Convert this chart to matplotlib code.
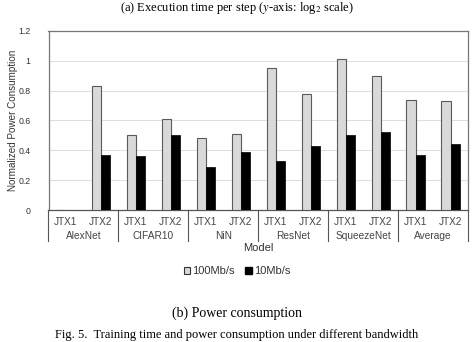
import matplotlib
matplotlib.use("Agg")
import matplotlib.pyplot as plt
from matplotlib.patches import Patch
import numpy as np

models = ["AlexNet", "CIFAR10", "NiN", "ResNet", "SqueezeNet", "Average"]
devices = ["JTX1", "JTX2"]
series_names = ["100Mb/s", "10Mb/s"]
# values ordered: model-major, device-minor
v100 = [0.0, 0.83, 0.50, 0.61, 0.48, 0.51, 0.95, 0.78, 1.01, 0.90, 0.74, 0.73]
v10 = [0.0, 0.37, 0.36, 0.50, 0.29, 0.39, 0.33, 0.43, 0.50, 0.52, 0.37, 0.44]
yticks = [0, 0.2, 0.4, 0.6, 0.8, 1, 1.2]
ytick_labels = ["0", "0.2", "0.4", "0.6", "0.8", "1", "1.2"]

plt.rcParams['font.family'] = ['Liberation Sans', 'DejaVu Sans']
plt.rcParams['mathtext.fontset'] = 'stix'

W, H = 474, 342
fig = plt.figure(figsize=(W / 100, H / 100), dpi=100)
ax = fig.add_axes([48.5 / W, 1 - 210 / H, (468 - 48.5) / W, (210 - 31) / H])

n = len(v100)
x = np.arange(n)
bw = 0.26
ax.bar(x - bw / 2, v100, width=bw, color="#d9d9d9", edgecolor="#5a5a5a", linewidth=0.8, zorder=3)
ax.bar(x + bw / 2, v10, width=bw, color="#000000", edgecolor="#000000", linewidth=0.5, zorder=3)

ax.set_xlim(-0.5, n - 0.5)
ax.set_ylim(0, 1.2)
ax.set_yticks(yticks)
ax.set_yticklabels(ytick_labels, fontsize=6.3, color="#333333")
ax.tick_params(axis="y", length=0, pad=13)
ax.grid(axis="y", color="#dddddd", linewidth=0.7, zorder=0)
for s in ax.spines.values():
    s.set_color("#777777")
    s.set_linewidth(0.9)
ax.spines["bottom"].set_color("#555555")

ax.set_xticks(x)
ax.set_xticklabels([devices[i % 2] for i in range(n)], fontsize=7.2, color="#444444")
ax.tick_params(axis="x", length=0, pad=5)

trans = ax.get_xaxis_transform()
ph = 210 - 31
ybot = -(241 - 210) / ph
for k in range(len(models) + 1):
    xb = -0.5 + 2 * k
    ax.plot([xb, xb], [0, ybot], color="#555555", linewidth=0.8, transform=trans, clip_on=False)
for k, m in enumerate(models):
    ax.text(0.5 + 2 * k, -(236 - 210) / ph, m, transform=trans, ha="center", va="center",
            fontsize=7.3, color="#444444")

ax.set_ylabel("Normalized Power Consumption", fontsize=7.1, color="#333333")
ax.yaxis.set_label_coords(-(48.5 - 18) / (468 - 48.5), 0.5)

fig.text((48.5 + 468) / 2 / W, 1 - 248 / H, "Model", ha="center", va="center", fontsize=8, color="#333333")

handles = [Patch(facecolor="#d9d9d9", edgecolor="#333333", linewidth=0.8),
           Patch(facecolor="#000000", edgecolor="#000000")]
fig.legend(handles, series_names, loc="center", bbox_to_anchor=(237 / W, 1 - 271 / H), ncol=2,
           frameon=False, fontsize=8, handlelength=0.6, handleheight=0.6, handletextpad=0.2,
           columnspacing=0.9, labelcolor="#333333")

serif = ['Liberation Serif', 'DejaVu Serif']
fig.text(0.5, 1 - 11 / H, r"(a) Execution time per step ($y$-axis: log$_2$ scale)", ha="center",
         va="baseline", fontsize=9, family=serif)
fig.text(0.5, 1 - 313 / H, "(b) Power consumption", ha="center", va="center", fontsize=10, family=serif)
fig.text(0.5, 1 - 338 / H, "Fig. 5.  Training time and power consumption under different bandwidth",
         ha="center", va="baseline", fontsize=9, family=serif)

fig.savefig("out.png", dpi=100)
